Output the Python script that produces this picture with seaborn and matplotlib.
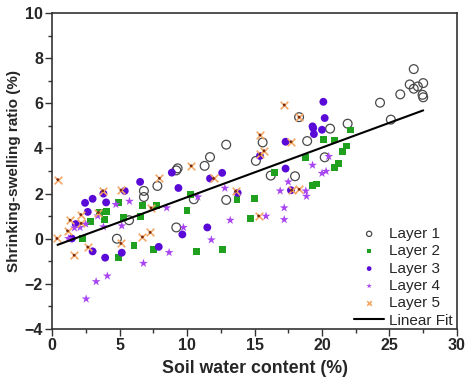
import numpy as np
import pandas as pd
import matplotlib
matplotlib.use("Agg")
import matplotlib.pyplot as plt
import seaborn as sns
from matplotlib.ticker import MultipleLocator

# layer data (x = soil water content, y = shrinking-swelling ratio)
layer1_x = [4.8, 5.7, 6.8, 6.8, 7.8, 9.2, 9.2, 9.3, 10.5, 11.3, 11.7, 12.9, 12.9, 15.1, 15.6, 16.2,
            18.0, 18.3, 18.9, 20.2, 20.6, 21.9, 24.3, 25.1, 25.8, 26.5, 26.8, 26.8, 27.1, 27.5, 27.45, 27.5]
layer1_y = [0.0, 0.82, 1.85, 2.12, 2.34, 0.5, 3.03, 3.12, 1.75, 3.23, 3.62, 4.17, 1.72, 3.45, 4.27, 2.8,
            2.77, 5.39, 4.33, 3.61, 4.88, 5.1, 6.03, 5.28, 6.4, 6.84, 6.65, 7.52, 6.75, 6.9, 6.38, 6.27]

layer2_x = [2.25, 2.86, 3.51, 3.9, 4.0, 4.91, 4.91, 5.28, 6.07, 6.57, 6.67, 7.5, 7.73, 10.0, 10.25, 10.7,
            12.6, 13.7, 14.7, 15.0, 16.5, 18.8, 19.3, 19.6, 20.1, 20.9, 20.9, 21.2, 21.5, 21.8, 22.1]
layer2_y = [0.0, 0.78, 1.16, 0.84, 1.19, 1.61, -0.84, 0.93, -0.31, 1.0, 1.49, -0.47, 1.49, 1.24, 1.97, -0.55,
            -0.47, 1.74, 0.88, 1.77, 2.93, 3.6, 2.37, 2.43, 4.39, 4.38, 3.14, 3.33, 3.88, 4.11, 4.82]

layer3_x = [1.46, 1.75, 2.44, 2.64, 3.0, 3.0, 3.8, 3.93, 4.0, 5.16, 5.38, 6.52, 7.9, 8.87, 9.36, 9.65,
            11.5, 11.7, 12.6, 13.75, 15.4, 17.3, 17.3, 17.7, 19.3, 19.35, 19.4, 20.0, 20.1, 20.2]
layer3_y = [0.01, 0.65, 1.59, 1.19, 1.77, -0.56, 2.0, -0.84, 1.61, -0.62, 2.12, 2.52, -0.36, 2.93, 2.25, 0.19,
            0.5, 2.67, 2.92, 2.03, 3.67, 4.3, 3.11, 2.15, 4.98, 4.9, 4.64, 4.83, 6.07, 5.35]

layer4_x = [1.21, 1.65, 2.07, 2.49, 2.52, 3.26, 3.38, 3.8, 4.09, 4.72, 5.16, 5.73, 6.77, 8.49, 8.67, 9.73,
            10.8, 11.8, 12.8, 13.2, 15.85, 16.9, 17.2, 17.2, 17.5, 18.8, 18.85, 19.3, 20.0, 20.3, 20.5]
layer4_y = [0.01, 0.48, 0.5, 0.65, -2.67, -1.9, 1.01, 0.53, -1.65, 1.52, 0.57, 1.66, -1.09, 1.37, -0.61, 0.5,
            1.85, -0.05, 2.24, 0.82, 1.0, 2.12, 1.37, 0.85, 2.52, 2.12, 1.88, 3.26, 2.9, 2.99, 3.65]

layer5_x = [0.42, 0.35, 1.14, 1.33, 1.63, 2.12, 2.15, 2.64, 3.43, 3.75, 5.1, 5.09, 6.69, 7.26, 7.33, 7.95,
            10.3, 11.97, 13.6, 15.3, 15.4, 15.4, 15.7, 17.2, 17.7, 17.75, 18.3, 18.3]
layer5_y = [2.62, 0.01, 0.35, 0.82, -0.73, 1.07, 0.68, -0.37, 1.16, 2.12, 2.15, -0.21, 0.08, 0.28, 1.37, 2.68,
            3.23, 2.67, 2.1, 1.01, 4.6, 3.74, 3.9, 5.93, 4.3, 2.15, 2.19, 5.39]

# linear fit
fit_slope = 0.22
fit_intercept = -0.36
fit_x_range = [0.4, 27.5]

x_ticks = [0, 5, 10, 15, 20, 25, 30]
y_ticks = [-4, -2, 0, 2, 4, 6, 8, 10]

sns.set_style("ticks")
plt.rcParams['font.family'] = ['Liberation Sans', 'DejaVu Sans']

fig = plt.figure(figsize=(4.74, 3.87), dpi=100)
ax = fig.add_axes([0.110, 0.150, 0.854, 0.816])

sns.scatterplot(x=layer1_x, y=layer1_y, ax=ax, marker="o", s=40, facecolor="none",
                edgecolor="#4a4a4a", linewidth=0.9, label="Layer 1", zorder=3)
sns.scatterplot(x=layer2_x, y=layer2_y, ax=ax, marker="s", s=24, color="#1fa01f",
                edgecolor="none", label="Layer 2", zorder=3)
sns.scatterplot(x=layer3_x, y=layer3_y, ax=ax, marker="o", s=32, color="#5a0ad6",
                edgecolor="none", label="Layer 3", zorder=3)
sns.scatterplot(x=layer4_x, y=layer4_y, ax=ax, marker="*", s=44, color="#a844f2",
                edgecolor="none", label="Layer 4", zorder=3)
sns.scatterplot(x=layer5_x, y=layer5_y, ax=ax, marker="x", s=30, color="#f5a866",
                linewidth=1.2, label="Layer 5", zorder=4)
sns.scatterplot(x=layer5_x, y=layer5_y, ax=ax, marker="o", s=4, color="#7a2a10",
                edgecolor="none", legend=False, zorder=5)

fit_x = np.array(fit_x_range)
sns.lineplot(x=fit_x, y=fit_slope * fit_x + fit_intercept, ax=ax, color="black",
             linewidth=1.5, label="Linear Fit", zorder=6)

ax.set_xlim(0, 30)
ax.set_ylim(-4, 10)
ax.set_xticks(x_ticks)
ax.set_yticks(y_ticks)
ax.xaxis.set_minor_locator(MultipleLocator(2.5))
ax.yaxis.set_minor_locator(MultipleLocator(1))
ax.tick_params(which="major", direction="out", length=5, width=1, bottom=True, left=True,
               top=False, right=False, labelsize=11.5, pad=1.5, color="#333333")
ax.tick_params(which="minor", direction="out", length=3, width=1, bottom=True, left=True,
               top=False, right=False, color="#333333")
for lab in ax.get_xticklabels() + ax.get_yticklabels():
    lab.set_fontweight("bold")
for sp in ax.spines.values():
    sp.set_visible(True)
    sp.set_color("#333333")
    sp.set_linewidth(1.2)

ax.set_xlabel("Soil water content (%)", fontsize=12.8, fontweight="bold", labelpad=5)
ax.set_ylabel("Shrinking-swelling ratio (%)", fontsize=11, fontweight="bold", labelpad=3)

ax.legend(loc="lower right", bbox_to_anchor=(1.012, -0.025), frameon=False, fontsize=11,
          handlelength=2.0, handletextpad=0.3, labelspacing=0.22, borderaxespad=0.2,
          markerscale=0.6)

fig.savefig("out.png", dpi=100)
